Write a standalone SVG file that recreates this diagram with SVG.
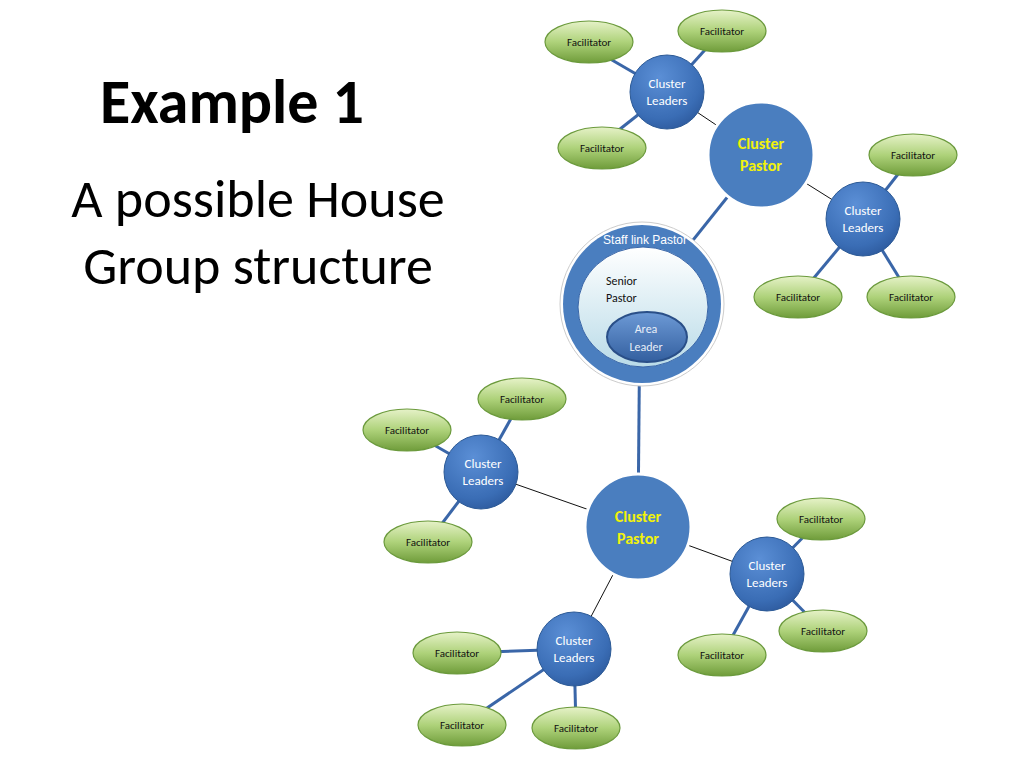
<svg xmlns="http://www.w3.org/2000/svg" width="1024" height="768" viewBox="0 0 1024 768">
<defs>
<linearGradient id="gf" x1="0" y1="0" x2="0" y2="1"><stop offset="0" stop-color="#e6f2c8"/><stop offset="0.5" stop-color="#aed27a"/><stop offset="1" stop-color="#6f9c3a"/></linearGradient>
<radialGradient id="gb" cx="0.4" cy="0.3" r="0.8"><stop offset="0" stop-color="#5b8fd6"/><stop offset="0.7" stop-color="#3a6db5"/><stop offset="1" stop-color="#2a5597"/></radialGradient>
<linearGradient id="gi" x1="0" y1="0" x2="0" y2="1"><stop offset="0" stop-color="#ffffff"/><stop offset="1" stop-color="#b9dbe8"/></linearGradient>
<linearGradient id="ga" x1="0" y1="0" x2="0" y2="1"><stop offset="0" stop-color="#6d9ad6"/><stop offset="1" stop-color="#335f9f"/></linearGradient>
</defs>
<style>
.f ellipse{fill:url(#gf);stroke:#6b9a3c;stroke-width:1.2}
.f text{font-family:Calibri,Carlito,"Liberation Sans",sans-serif;font-size:11px;fill:#111;text-anchor:middle}
.cl circle{fill:url(#gb);stroke:#2c5a96;stroke-width:1}
.cl text{font-family:Calibri,Carlito,"Liberation Sans",sans-serif;font-size:13px;fill:#fff;text-anchor:middle}
.cp circle{fill:#4a7ebf;stroke:#fff;stroke-width:3}
.cp text{font-family:Calibri,Carlito,"Liberation Sans",sans-serif;font-size:16px;font-weight:bold;fill:#f2f20a;text-anchor:middle}
.b{stroke:#3a66a8;stroke-width:3}
.k{stroke:#111;stroke-width:1}
.t{font-family:Calibri,Carlito,"Open Sans",sans-serif;fill:#000;text-anchor:middle}
</style>
<text class="t" x="232" y="123" font-size="62" font-weight="bold">Example 1</text>
<text class="t" x="258" y="217" font-size="54">A possible House</text>
<text class="t" x="258" y="284" font-size="54">Group structure</text>
<g id="connectors">
<line class="b" x1="667" y1="92" x2="581" y2="42"/><line class="b" x1="667" y1="92" x2="722" y2="31"/><line class="b" x1="667" y1="92" x2="596" y2="148"/>
<line class="b" x1="863" y1="219" x2="913" y2="155"/><line class="b" x1="863" y1="219" x2="798" y2="297"/><line class="b" x1="863" y1="219" x2="911" y2="297"/>
<line class="b" x1="481" y1="472" x2="522" y2="399"/><line class="b" x1="481" y1="472" x2="408" y2="430"/><line class="b" x1="481" y1="472" x2="428" y2="542"/>
<line class="b" x1="767" y1="574" x2="821" y2="519"/><line class="b" x1="767" y1="574" x2="722" y2="655"/><line class="b" x1="767" y1="574" x2="823" y2="631"/>
<line class="b" x1="574" y1="649" x2="457" y2="653"/><line class="b" x1="574" y1="649" x2="462" y2="725"/><line class="b" x1="574" y1="649" x2="576" y2="728"/>
<line class="b" x1="761" y1="155" x2="642" y2="304"/><line class="b" x1="640" y1="304" x2="638" y2="527"/>
<line class="k" x1="761" y1="155" x2="667" y2="92"/><line class="k" x1="761" y1="155" x2="863" y2="219"/>
<line class="k" x1="638" y1="527" x2="481" y2="472"/><line class="k" x1="638" y1="527" x2="767" y2="574"/><line class="k" x1="638" y1="527" x2="574" y2="649"/>
</g>
<g id="staff">
<circle cx="642" cy="304" r="82" fill="#fff" stroke="#ccc" stroke-width="1"/>
<circle cx="642" cy="304" r="79" fill="#4a7ebf"/>
<ellipse cx="643" cy="307" rx="65" ry="60" fill="url(#gi)" stroke="#3a66a8"/>
<ellipse cx="647" cy="337" rx="40" ry="25" fill="url(#ga)" stroke="#2a4f88" stroke-width="2"/>
<text x="645" y="244" font-family="Liberation Sans,sans-serif" font-size="12" fill="#fff" text-anchor="middle">Staff link Pastor</text>
<text x="606" y="285" font-family="Calibri,Carlito,Liberation Sans,sans-serif" font-size="12" fill="#111">Senior</text>
<text x="606" y="302" font-family="Calibri,Carlito,Liberation Sans,sans-serif" font-size="12" fill="#111">Pastor</text>
<text x="646" y="333" font-family="Calibri,Carlito,Liberation Sans,sans-serif" font-size="12" fill="#e8eef8" text-anchor="middle">Area</text>
<text x="646" y="351" font-family="Calibri,Carlito,Liberation Sans,sans-serif" font-size="12" fill="#e8eef8" text-anchor="middle">Leader</text>
</g>
<g id="cp1" class="cp"><circle cx="761" cy="155" r="53"/><text x="761" y="149">Cluster</text><text x="761" y="171">Pastor</text></g>
<g id="cp2" class="cp"><circle cx="638" cy="527" r="53"/><text x="638" y="522">Cluster</text><text x="638" y="544">Pastor</text></g>
<g id="clA" class="cl"><circle cx="667" cy="92" r="37"/><text x="667" y="88">Cluster</text><text x="667" y="105">Leaders</text></g>
<g id="clB" class="cl"><circle cx="863" cy="219" r="37"/><text x="863" y="215">Cluster</text><text x="863" y="232">Leaders</text></g>
<g id="clC" class="cl"><circle cx="481" cy="472" r="37"/><text x="483" y="468">Cluster</text><text x="483" y="485">Leaders</text></g>
<g id="clD" class="cl"><circle cx="767" cy="574" r="37"/><text x="767" y="570">Cluster</text><text x="767" y="587">Leaders</text></g>
<g id="clE" class="cl"><circle cx="574" cy="649" r="37"/><text x="574" y="645">Cluster</text><text x="574" y="662">Leaders</text></g>
<g id="fA1" class="f"><ellipse cx="589" cy="42" rx="44" ry="21"/><text x="589" y="46">Facilitator</text></g>
<g id="fA2" class="f"><ellipse cx="722" cy="31" rx="44" ry="21"/><text x="722" y="35">Facilitator</text></g>
<g id="fA3" class="f"><ellipse cx="602" cy="148" rx="44" ry="21"/><text x="602" y="152">Facilitator</text></g>
<g id="fB1" class="f"><ellipse cx="913" cy="155" rx="44" ry="21"/><text x="913" y="159">Facilitator</text></g>
<g id="fB2" class="f"><ellipse cx="798" cy="297" rx="44" ry="21"/><text x="798" y="301">Facilitator</text></g>
<g id="fB3" class="f"><ellipse cx="911" cy="297" rx="44" ry="21"/><text x="911" y="301">Facilitator</text></g>
<g id="fC1" class="f"><ellipse cx="522" cy="399" rx="44" ry="21"/><text x="522" y="403">Facilitator</text></g>
<g id="fC2" class="f"><ellipse cx="407" cy="430" rx="44" ry="21"/><text x="407" y="434">Facilitator</text></g>
<g id="fC3" class="f"><ellipse cx="428" cy="542" rx="44" ry="21"/><text x="428" y="546">Facilitator</text></g>
<g id="fD1" class="f"><ellipse cx="821" cy="519" rx="44" ry="21"/><text x="821" y="523">Facilitator</text></g>
<g id="fD2" class="f"><ellipse cx="722" cy="655" rx="44" ry="21"/><text x="722" y="659">Facilitator</text></g>
<g id="fD3" class="f"><ellipse cx="823" cy="631" rx="44" ry="21"/><text x="823" y="635">Facilitator</text></g>
<g id="fE1" class="f"><ellipse cx="457" cy="653" rx="44" ry="21"/><text x="457" y="657">Facilitator</text></g>
<g id="fE2" class="f"><ellipse cx="462" cy="725" rx="44" ry="21"/><text x="462" y="729">Facilitator</text></g>
<g id="fE3" class="f"><ellipse cx="576" cy="728" rx="44" ry="21"/><text x="576" y="732">Facilitator</text></g>
</svg>
